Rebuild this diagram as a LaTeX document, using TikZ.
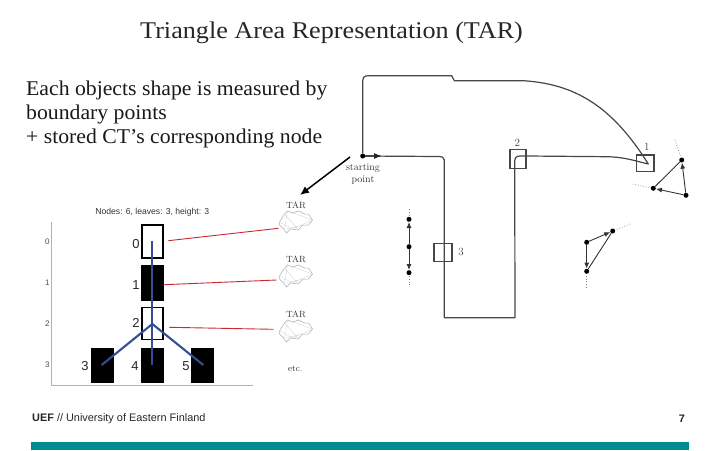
\documentclass[tikz,border=0pt]{standalone}
\usepackage{fontspec}
\setsansfont{Liberation Sans}
\newfontfamily\bodyserif[FakeStretch=1.035]{Liberation Serif}
\newfontfamily\titleserif[FakeStretch=1.09]{Liberation Serif}
\usetikzlibrary{arrows.meta}
\definecolor{tealbar}{RGB}{0,140,149}
\definecolor{treeblue}{RGB}{52,78,150}
\definecolor{redline}{RGB}{205,40,50}
\definecolor{pathgray}{RGB}{70,70,70}
\tikzset{
  slidetext/.style={inner sep=0pt,anchor=base west,font=\bodyserif\fontsize{21}{24}\selectfont,text=black!90},
  filledbox/.style={draw=black,fill=black,minimum width=22pt,minimum height=34.5pt,inner sep=0pt},
  openbox/.style={draw=black,line width=1.4pt,fill=white,minimum width=21pt,inner sep=0pt},
  treenum/.style={font=\sffamily\fontsize{13}{14}\selectfont,inner sep=0pt,text=black!85},
  ticklab/.style={font=\sffamily\fontsize{8}{9}\selectfont,inner sep=0pt,text=black!70},
  figtext/.style={font=\fontsize{9}{10}\selectfont,inner sep=0pt,text=black!80},
  figlab/.style={font=\fontsize{11}{12}\selectfont,inner sep=0pt,text=black!75},
  markbox/.style={draw=pathgray,line width=1.1pt,inner sep=0pt},
  boundary/.style={draw=pathgray,line width=1.2pt,line join=round},
  treeedge/.style={draw=treeblue,line width=2.1pt},
  redlink/.style={draw=redline,line width=0.9pt},
  pt/.style={circle,fill=black,minimum size=5pt,inner sep=0pt},
  dots/.style={draw=gray,line width=0.7pt,dotted},
  tri/.style={draw=black!80,line width=0.9pt},
  triarrow/.style={draw=black!80,line width=0.9pt,-{Latex[length=6pt,width=5pt]}},
  blob/.style={draw=black!32,line width=0.5pt},
  blobin/.style={draw=cyan!30!black!25,line width=0.3pt}
}
\newcommand{\tarblob}[2]{%
  \begin{scope}[shift={(#1,#2)}]
    \draw[blob] (-16,2) -- (-11,-6) -- (-8,-9) -- (-3,-7) -- (3,-9) -- (9,-6) -- (13,-6) -- (17,0) -- (13,5) -- (7,5) -- (3,10) -- (-5,9) -- (-9,13) -- (-12,9) -- (-16,5) -- cycle;
    \draw[blobin] (-11,9) -- (-8,-9) -- (17,0) -- (-3,9) -- (-16,2) (-11,-6) -- (3,10) (-9,9) -- (7,5);
  \end{scope}}
\begin{document}
\begin{tikzpicture}[x=1pt,y=-1pt]
\useasboundingbox (0,0) rectangle (720,450);
% title and text
\node[slidetext,font=\titleserif\fontsize{24}{28}\selectfont,text=black!85] (title) at (140,38.3) {Triangle Area Representation (TAR)};
\node[slidetext] (l1) at (26,95) {Each objects shape is measured by};
\node[slidetext] (l2) at (26,119) {boundary points};
\node[slidetext] (l3) at (26,143) {+ stored CT’s corresponding node};
% tree figure
\node[font=\sffamily\fontsize{8.6}{10}\selectfont,inner sep=0pt,text=black!80] (cap) at (152.3,212) {Nodes: 6, leaves: 3, height: 3};
\coordinate (axtop) at (51.7,221.7);
\coordinate (axorg) at (51.7,385);
\coordinate (axend) at (252.7,385);
\draw[black!30,line width=0.8pt] (axtop) -- (axorg) -- (axend);
\node[ticklab] (t0) at (47.3,241.7) {0};
\node[ticklab] (t1) at (47.3,282.7) {1};
\node[ticklab] (t2) at (47.3,324) {2};
\node[ticklab] (t3) at (47.3,365) {3};
\node[openbox,minimum height=33pt] (n0) at (152.5,241.3) {};
\node[filledbox] (n1) at (152.2,282.7) {};
\node[openbox,minimum height=32pt] (n2) at (152.5,323.7) {};
\node[filledbox] (n3) at (102,365) {};
\node[filledbox] (n4) at (152.2,365) {};
\node[filledbox] (n5) at (202.3,365) {};
\node[treenum] (k0) at (136,244.5) {0};
\node[treenum] (k1) at (136,285) {1};
\node[treenum] (k2) at (136,323) {2};
\node[treenum] (k3) at (85,366) {3};
\node[treenum] (k4) at (135,366) {4};
\node[treenum] (k5) at (186,366) {5};
\coordinate (b0) at (152.3,240.7);
\coordinate (b2) at (152.3,324);
\coordinate (b3) at (101.7,365);
\coordinate (b4) at (152.3,365);
\coordinate (b5) at (203.3,365);
\draw[treeedge] (b0) -- (b4);
\draw[treeedge] (b3) -- (b2) -- (b5);
% TAR
\node[figtext] (tar0) at (296,205) {TAR};
\node[figtext] (tar1) at (296,259.3) {TAR};
\node[figtext] (tar2) at (296,314) {TAR};
\node[figtext] (etc) at (295.3,369) {etc.};
\tarblob{295.5}{220}
\tarblob{295.5}{274}
\tarblob{295.5}{329}
\coordinate (r0a) at (168.3,240.7);
\coordinate (r0b) at (278.3,228.3);
\coordinate (r1a) at (164.3,284.7);
\coordinate (r1b) at (276.7,280);
\coordinate (r2a) at (169.3,327.3);
\coordinate (r2b) at (273.3,329.3);
\draw[redlink] (r0a) -- (r0b);
\draw[redlink] (r1a) -- (r1b);
\draw[redlink] (r2a) -- (r2b);
% black arrow
\coordinate (arrA) at (350,157);
\coordinate (arrB) at (300,195);
\draw[black,line width=1.5pt,-{Latex[length=9pt,width=8pt]}] (arrA) -- (arrB);
% boundary path
\node[pt] (start) at (362.7,156) {};
\node[figtext,align=center,font=\fontsize{10}{11.5}\selectfont] (startlab) at (363,174) {starting\\point};
\coordinate (m1) at (648.3,164);
\draw[boundary] (start) -- (362.7,81.7) .. controls (362.7,77.5) and (364,75.7) .. (368.3,75.7) -- (451.7,75.7) -- (454.3,80.7) -- (523.3,80.7)
  .. controls (575,84) and (612,106) .. (m1)
  .. controls (635,161) and (625,157) .. (606.7,156.7) -- (526.7,156) -- (520,156)
  .. controls (516,156) and (514.7,158) .. (514.7,161.7) -- (515,317.7) -- (444.3,317.7) -- (444.3,160)
  .. controls (444.3,157) and (442,156.7) .. (438,156.5) -- (start);
\coordinate (ahead) at (382,156);
\draw[pathgray,line width=1.2pt,-{Latex[length=8pt,width=6pt,color=black!85]}] (start) -- (ahead);
\node[markbox,minimum width=16pt,minimum height=19pt] (bx2) at (518,159.2) {};
\node[markbox,minimum width=17.3pt,minimum height=16.7pt] (bx1) at (645.3,163.3) {};
\node[markbox,minimum width=18pt,minimum height=17.7pt] (bx3) at (443,252.2) {};
\node[figlab] (q2) at (517.3,143.3) {2};
\node[figlab] (q1) at (646.7,146.7) {1};
\node[figlab] (q3) at (461,251.7) {3};
% right triangle
\node[pt] (a1) at (681.7,160) {};
\node[pt] (a2) at (686,195.3) {};
\node[pt] (a3) at (653.3,188.3) {};
\coordinate (a1d) at (675,140);
\coordinate (a3d) at (632.7,184);
\draw[dots] (a1d) -- (a1);
\draw[dots] (a3d) -- (a3);
\draw[triarrow] (a2) -- (a1);
\draw[tri] (a3) -- (a1);
\draw[triarrow] (a2) -- (a3);
% vertical collinear
\node[pt] (c1) at (409,219.3) {};
\node[pt] (c2) at (409,246.7) {};
\node[pt] (c3) at (409,272.7) {};
\coordinate (c1d) at (409,209.3);
\coordinate (c3d) at (409,285);
\draw[dots] (c1d) -- (c1);
\draw[dots] (c3d) -- (c3);
\draw[triarrow] (c2) -- (c1);
\draw[triarrow] (c2) -- (c3);
% lower triangle
\node[pt] (d1) at (586.7,242.3) {};
\node[pt] (d2) at (612.7,231) {};
\node[pt] (d3) at (586.7,271.3) {};
\coordinate (d2d) at (630,224);
\coordinate (d3d) at (586.7,287.3);
\draw[dots] (d2d) -- (d2);
\draw[dots] (d3d) -- (d3);
\draw[triarrow] (d1) -- (d2);
\draw[triarrow] (d1) -- (d3);
\draw[tri] (d2) -- (d3);
% footer
\node[inner sep=0pt,anchor=west,font=\sffamily\fontsize{10.9}{12}\selectfont,text=black!85] (foot) at (32,419) {\textbf{UEF} // University of Eastern Finland};
\node[inner sep=0pt,font=\sffamily\bfseries\fontsize{10.9}{12}\selectfont,text=black!85] (pg) at (682,419) {7};
\fill[tealbar] (31,442) rectangle (689,450);
\end{tikzpicture}
\end{document}
